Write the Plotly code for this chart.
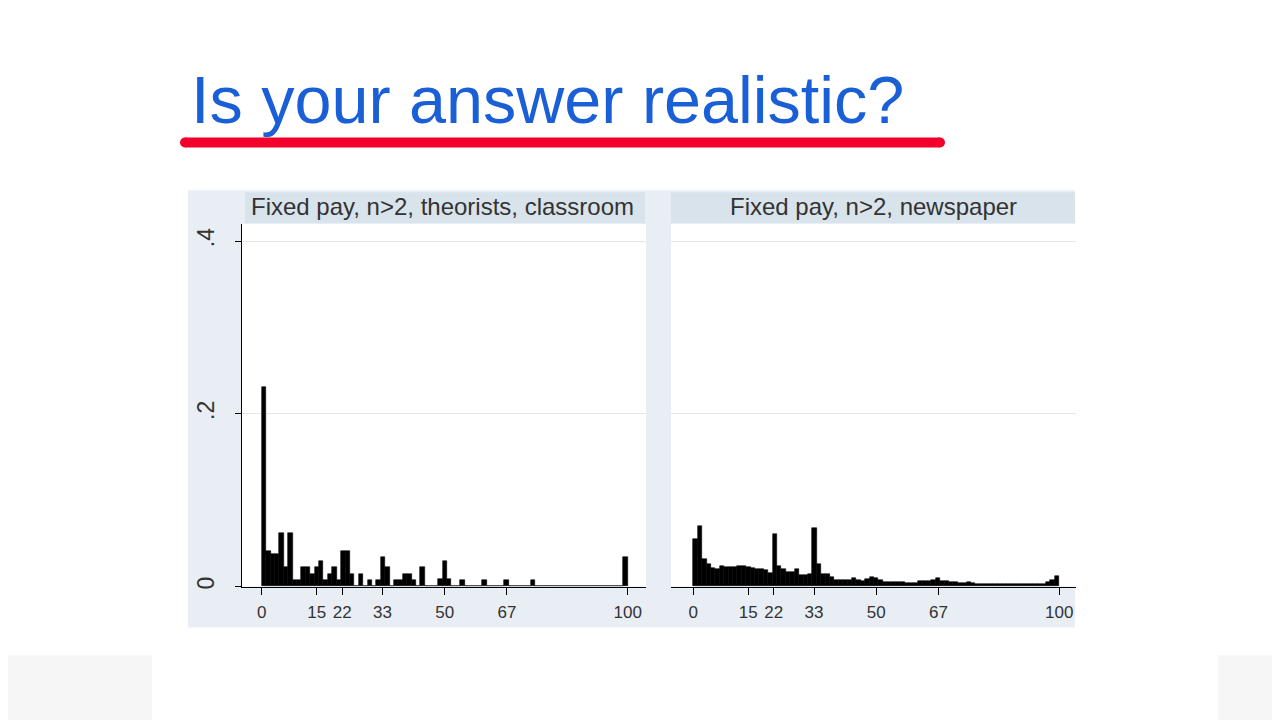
import plotly.graph_objects as go

# ---------------- data ----------------
N_BINS = 83
X_MIN, X_MAX = 0, 100
x_ticks = [0, 15, 22, 33, 50, 67, 100]
y_ticks = [0, 0.2, 0.4]
y_ticktext = ["0", ".2", ".4"]

panel_titles = ["Fixed pay, n>2, theorists, classroom", "Fixed pay, n>2, newspaper"]
slide_title = "Is your answer realistic?"

# density per bin (bin k covers [k*w, (k+1)*w), w = 100/83)
density_classroom = [
    .231, .041, .038, .038, .062, .022, .062, .008, .008, .022,
    .022, .015, .022, .029, .008, .015, .022, .008, .041, .041,
    .015, 0, .015, 0, .008, 0, .008, .034, .022, 0,
    .008, .008, .015, .015, .008, 0, .022, 0, 0, 0,
    .009, .029, .009, 0, 0, .008, 0, 0, 0, 0,
    .008, 0, 0, 0, 0, .008, 0, 0, 0, 0,
    0, .008, 0, 0, 0, 0, 0, 0, 0, 0,
    0, 0, 0, 0, 0, 0, 0, 0, 0, 0,
    0, 0, .034,
]
density_newspaper = [
    .055, .070, .032, .026, .021, .020, .024, .022, .022, .022,
    .024, .024, .023, .021, .020, .020, .019, .016, .061, .024,
    .020, .017, .017, .020, .013, .013, .014, .068, .026, .015,
    .015, .011, .007, .007, .008, .008, .010, .008, .006, .009,
    .011, .010, .007, .005, .005, .005, .005, .005, .004, .004,
    .004, .006, .006, .006, .008, .010, .006, .006, .005, .005,
    .004, .004, .005, .004, .003, .003, .003, .003, .003, .003,
    .003, .003, .003, .003, .003, .003, .003, .003, .003, .003,
    .005, .008, .012,
]

bin_w = (X_MAX - X_MIN) / N_BINS
bin_centers = [X_MIN + (k + 0.5) * bin_w for k in range(N_BINS)]

# ---------------- layout helpers ----------------
W, H = 1280, 720
OFF_X, OFF_Y = 8, 5
def px(x):
    return (x - OFF_X) / W
def py(y):
    return 1 - (y - OFF_Y) / H

FONT = "Liberation Sans, Arial, Helvetica, sans-serif"
OUTER_BG = "#e8eef3"
STRIP_BG = "#d9e3eb"
TXT = "#333333"

fig = go.Figure()
fig.add_trace(go.Bar(x=bin_centers, y=density_classroom, width=bin_w,
                     marker=dict(color="black", line=dict(color="black", width=0.6)),
                     xaxis="x", yaxis="y", hoverinfo="skip"))
fig.add_trace(go.Bar(x=bin_centers, y=density_newspaper, width=bin_w,
                     marker=dict(color="black", line=dict(color="black", width=0.6)),
                     xaxis="x2", yaxis="y2", hoverinfo="skip"))

ydom = [py(586), py(222)]
yrange = [0, (586 - 222) / 867.5]

xcommon = dict(tickmode="array", tickvals=x_ticks, ticks="outside", ticklen=7,
               tickcolor="black", tickwidth=1, showline=True, linecolor="black",
               linewidth=1, showgrid=False, zeroline=False, ticklabelstandoff=3,
               tickfont=dict(family=FONT, size=17, color=TXT), fixedrange=True)
ycommon = dict(range=yrange, domain=ydom, tickmode="array", tickvals=y_ticks,
               showgrid=True, gridcolor="#e6e6e6", gridwidth=1, zeroline=False,
               fixedrange=True)

fig.update_layout(
    width=W, height=H, autosize=False,
    margin=dict(l=0, r=0, t=0, b=0),
    paper_bgcolor="white", plot_bgcolor="rgba(0,0,0,0)",
    showlegend=False, bargap=0,
    xaxis=dict(domain=[px(242), px(646)], range=[-5.4, 105], anchor="y", **xcommon),
    yaxis=dict(anchor="x", ticktext=y_ticktext, ticks="outside", ticklen=6,
               tickcolor="black", showline=True, linecolor="black", linewidth=1,
               tickangle=-90, ticklabelstandoff=12,
               tickfont=dict(family=FONT, size=23, color=TXT), **ycommon),
    xaxis2=dict(domain=[px(671), px(1076)], range=[-6.1, 104.6], anchor="y2", **xcommon),
    yaxis2=dict(anchor="x2", showticklabels=False, ticks="", showline=False, **ycommon),
)

shapes = []
def rect(x0, y0, x1, y1, color):
    shapes.append(dict(type="rect", xref="paper", yref="paper", layer="below",
                       x0=px(x0), x1=px(x1), y0=py(y1), y1=py(y0),
                       fillcolor=color, line=dict(width=0)))

# faint slide edges
rect(0, 655, 152, 740, "#f6f6f6")
rect(1218, 655, 1300, 740, "#f6f6f6")
# chart background
rect(188, 188, 1075, 627, OUTER_BG)
# plot areas
rect(242, 222, 646, 586, "white")
rect(671, 222, 1076, 586, "white")
# strips
rect(245, 190, 645, 221, STRIP_BG)
rect(671, 190, 1075, 221, STRIP_BG)

# red underline with rounded ends
RED = "#f3002b"
LINE_Y = 140
shapes.append(dict(type="line", xref="paper", yref="paper", layer="above",
                   x0=px(185), x1=px(940), y0=py(LINE_Y), y1=py(LINE_Y),
                   line=dict(color=RED, width=10)))
for cx in (185, 940):
    shapes.append(dict(type="circle", xref="paper", yref="paper", layer="above",
                       x0=px(cx - 5), x1=px(cx + 5), y0=py(LINE_Y + 5), y1=py(LINE_Y - 5),
                       fillcolor=RED, line=dict(width=0)))
fig.update_layout(shapes=shapes)

annotations = [
    dict(text=slide_title, xref="paper", yref="paper", x=px(189), y=py(97),
         xanchor="left", yanchor="middle", showarrow=False,
         font=dict(family=FONT, size=66.5, color="#1a5fd6")),
    dict(text=panel_titles[0], xref="paper", yref="paper", x=px(442), y=py(204),
         xanchor="center", yanchor="middle", showarrow=False,
         font=dict(family=FONT, size=24, color=TXT)),
    dict(text=panel_titles[1], xref="paper", yref="paper", x=px(873), y=py(204),
         xanchor="center", yanchor="middle", showarrow=False,
         font=dict(family=FONT, size=24, color=TXT)),
]
fig.update_layout(annotations=annotations)

fig.write_html("out.html")
